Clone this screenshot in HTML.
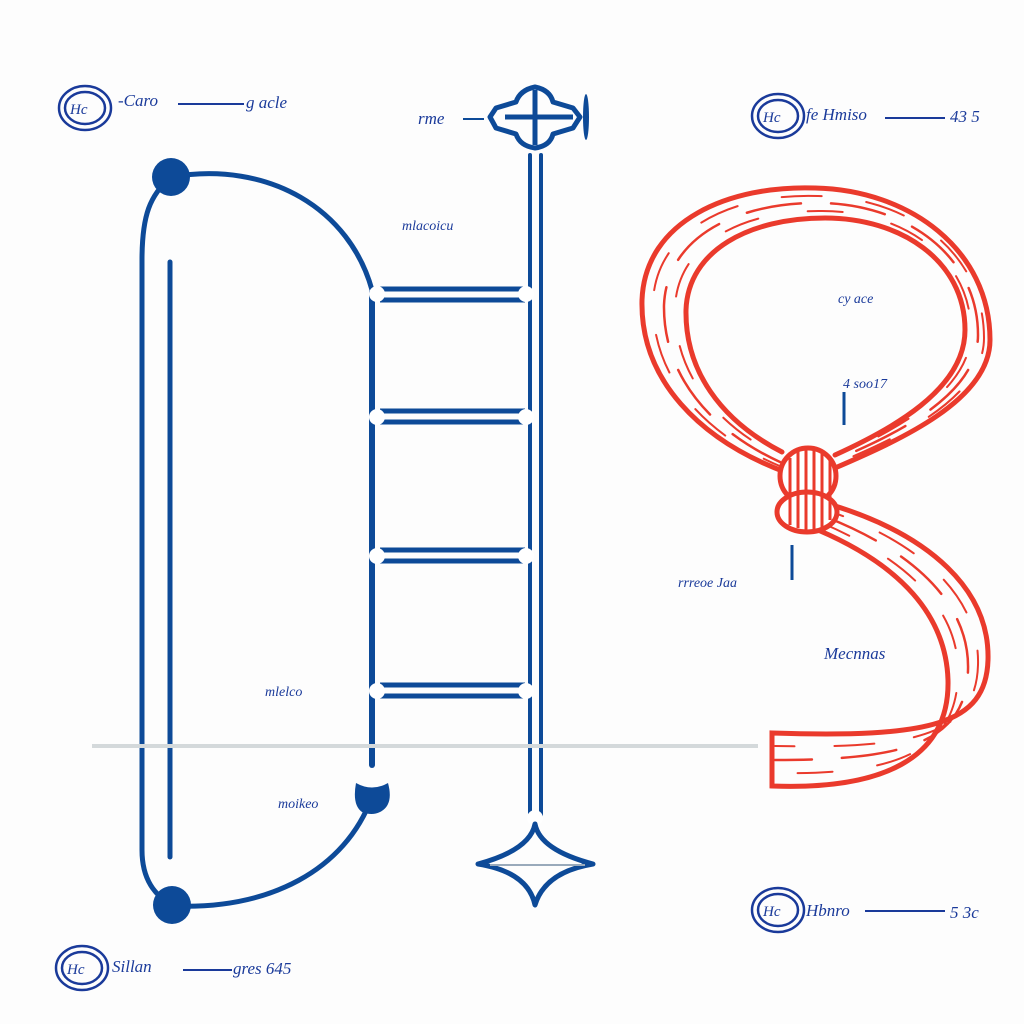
<!DOCTYPE html>
<html><head><meta charset="utf-8"><style>
html,body{margin:0;padding:0;background:#fdfdfd;}
svg{display:block;}
text{font-family:"Liberation Serif",serif;font-style:italic;fill:#1a3a9a;}
</style></head><body>
<svg width="1024" height="1024" viewBox="0 0 1024 1024" xmlns="http://www.w3.org/2000/svg">
<rect width="1024" height="1024" fill="#fdfdfd"/>
<g fill="none" stroke="#0d4a98" stroke-linecap="round">
  <path d="M171,177 C150,195 142,215 142,260 L142,850 C142,880 155,895 172,906" stroke-width="5"/>
  <path d="M171,177 C270,160 350,210 372,290" stroke-width="5"/>
  <path d="M172,906 C270,910 345,870 372,797" stroke-width="5"/>
  <line x1="170" y1="262" x2="170" y2="857" stroke-width="5"/>
  <line x1="372" y1="292" x2="372" y2="765" stroke-width="6"/>
  <line x1="530" y1="155" x2="530" y2="815" stroke-width="4"/>
  <line x1="541" y1="155" x2="541" y2="815" stroke-width="4"/>
  <g stroke-width="5" stroke-linecap="butt">
    <line x1="380" y1="289" x2="525" y2="289"/><line x1="380" y1="300" x2="525" y2="300"/>
    <line x1="380" y1="411" x2="525" y2="411"/><line x1="380" y1="422" x2="525" y2="422"/>
    <line x1="380" y1="550" x2="525" y2="550"/><line x1="380" y1="561" x2="525" y2="561"/>
    <line x1="380" y1="685" x2="525" y2="685"/><line x1="380" y1="696" x2="525" y2="696"/>
  </g>
</g>
<g fill="#fff">
  <circle cx="377" cy="294" r="8"/><circle cx="526" cy="294" r="8"/>
  <circle cx="377" cy="417" r="8"/><circle cx="526" cy="417" r="8"/>
  <circle cx="377" cy="556" r="8"/><circle cx="526" cy="556" r="8"/>
  <circle cx="377" cy="691" r="8"/><circle cx="526" cy="691" r="8"/>
  <circle cx="535" cy="818" r="8"/>
</g>
<g fill="#0d4a98">
  <circle cx="171" cy="177" r="19"/>
  <circle cx="172" cy="905" r="19"/>
  <path d="M356,783 Q372,792 388,783 Q394,805 380,812 Q372,816 362,812 Q352,805 356,783Z"/>
</g>
<line x1="92" y1="746" x2="758" y2="746" stroke="#d4d9db" stroke-width="4"/>
<path d="M535,824 Q540,850 593,864 Q545,872 535,905 Q528,872 478,864 Q530,850 535,824Z" fill="none" stroke="#0d4a98" stroke-width="5" stroke-linejoin="round"/>
<line x1="490" y1="865" x2="585" y2="865" stroke="#9ab" stroke-width="2"/>
<g fill="none" stroke="#0d4a98" stroke-width="5">
  <path d="M516,102 Q520,90 535,87 Q550,90 553,102 L573,108 L580,117 L573,128 L553,134 Q550,146 535,148 Q520,146 516,134 L496,128 L490,117 L496,108Z" stroke-linejoin="round"/>
  <line x1="535" y1="90" x2="535" y2="145"/>
  <line x1="505" y1="117" x2="573" y2="117"/>
</g>
<ellipse cx="586" cy="117" rx="3" ry="23" fill="#0d4a98"/>
<line x1="463" y1="119" x2="484" y2="119" stroke="#0d4a98" stroke-width="2"/>
<!-- red rope -->
<g fill="none" stroke="#ea3a2c" stroke-linecap="round">
  <path d="M785,472 C700,440 640,380 642,300 C645,220 730,185 815,188 C910,190 990,250 990,340 C990,400 900,440 835,468" stroke-width="5"/>
  <path d="M782,452 C720,420 685,370 686,310 C688,250 750,218 825,218 C900,218 965,260 965,330 C965,390 890,430 835,455" stroke-width="5"/>
  <path d="M780,462 C710,430 663,375 664,305 C667,235 740,202 820,203 C905,204 978,255 978,335 C978,395 895,435 835,460" stroke-width="2.5" stroke-dasharray="55 30"/>
  <path d="M782,467 C705,435 652,378 653,302 C656,228 735,193 818,196 C908,197 984,252 984,338 C984,398 898,438 835,464" stroke-width="2" stroke-dasharray="40 45" stroke-dashoffset="20"/>
  <path d="M781,457 C715,425 674,372 675,307 C678,242 745,210 822,211 C902,211 971,257 971,332 C971,392 892,432 835,457" stroke-width="2" stroke-dasharray="35 50" stroke-dashoffset="50"/>
  <path d="M832,505 C930,535 990,590 988,660 C986,725 930,738 772,733 L772,786 C880,790 950,760 948,680 C946,615 900,565 818,530" stroke-width="5" stroke-linejoin="miter"/>
  <path d="M826,517 C915,552 970,605 968,670 C966,745 900,760 775,760" stroke-width="2.5" stroke-dasharray="55 30"/>
  <path d="M829,511 C922,543 980,598 978,665 C976,735 915,749 775,746" stroke-width="2" stroke-dasharray="40 40" stroke-dashoffset="25"/>
  <path d="M822,523 C908,560 960,610 958,675 C956,755 890,775 775,773" stroke-width="2" stroke-dasharray="35 45" stroke-dashoffset="5"/>
</g>
<circle cx="808" cy="476" r="28" fill="#fff" stroke="#ea3a2c" stroke-width="5"/>
<ellipse cx="807" cy="512" rx="30" ry="20" fill="#fff" stroke="#ea3a2c" stroke-width="5"/>
<g stroke="#ea3a2c" stroke-width="3">
  <line x1="790" y1="458" x2="790" y2="525"/><line x1="798" y1="452" x2="798" y2="528"/>
  <line x1="806" y1="450" x2="806" y2="530"/><line x1="814" y1="450" x2="814" y2="530"/>
  <line x1="822" y1="453" x2="822" y2="528"/><line x1="830" y1="460" x2="830" y2="520"/>
</g>
<line x1="844" y1="392" x2="844" y2="425" stroke="#0d4a98" stroke-width="3"/>
<line x1="792" y1="545" x2="792" y2="580" stroke="#0d4a98" stroke-width="3"/>
<g fill="none" stroke="#1a3a9a" stroke-width="2.5">
  <ellipse cx="85" cy="108" rx="26" ry="22"/><ellipse cx="85" cy="108" rx="20" ry="16"/>
  <ellipse cx="778" cy="116" rx="26" ry="22"/><ellipse cx="778" cy="116" rx="20" ry="16"/>
  <ellipse cx="778" cy="910" rx="26" ry="22"/><ellipse cx="778" cy="910" rx="20" ry="16"/>
  <ellipse cx="82" cy="968" rx="26" ry="22"/><ellipse cx="82" cy="968" rx="20" ry="16"/>
</g>
<g font-size="15">
  <text x="70" y="114">Hc</text><text x="763" y="122">Hc</text>
  <text x="763" y="916">Hc</text><text x="67" y="974">Hc</text>
</g>
<g stroke="#1a3a9a" stroke-width="2">
  <line x1="178" y1="104" x2="244" y2="104"/>
  <line x1="885" y1="118" x2="945" y2="118"/>
  <line x1="865" y1="911" x2="945" y2="911"/>
  <line x1="183" y1="970" x2="232" y2="970"/>
</g>
<g font-size="17">
  <text x="118" y="106">-Caro</text><text x="246" y="108">g acle</text>
  <text x="806" y="120">fe Hmiso</text><text x="950" y="122">43 5</text>
  <text x="806" y="916">Hbnro</text><text x="950" y="918">5 3c</text>
  <text x="112" y="972">Sillan</text><text x="233" y="974">gres 645</text>
  <text x="418" y="124">rme</text>
  <text x="824" y="659">Mecnnas</text>
</g>
<g font-size="14">
  <text x="402" y="230">mlacoicu</text>
  <text x="838" y="303">cy ace</text>
  <text x="843" y="388">4 soo17</text>
  <text x="678" y="587">rrreoe Jaa</text>
  <text x="265" y="696">mlelco</text>
  <text x="278" y="808">moikeo</text>
</g>
</svg>
</body></html>
